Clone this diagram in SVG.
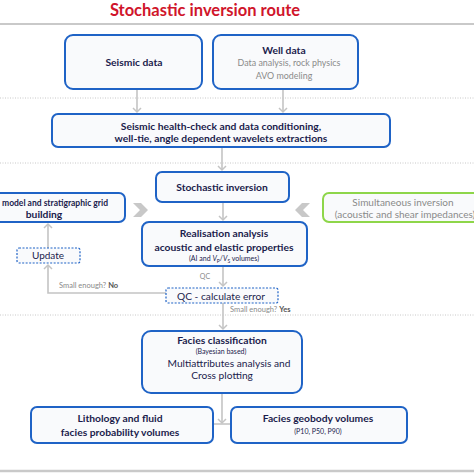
<svg xmlns="http://www.w3.org/2000/svg" width="474" height="474" viewBox="0 0 474 474">
<defs>
<style>
.box{fill:#f9fafc;stroke:#1f63c6;stroke-width:2}
.dash{fill:#f9fafc;stroke:#1f63c6;stroke-width:1.2;stroke-dasharray:2 1.5}
.green{fill:#f9fafc;stroke:#8ed64a;stroke-width:2}
.t{font-family:Lato,"Liberation Sans",sans-serif;fill:#1b1c4c;text-anchor:middle}
.b{font-weight:bold;font-size:10.3px}
.r{font-size:10.2px}
.s{font-size:7px}
.g{fill:#8a8a8a}
.sep{stroke:#c8c8c8;stroke-width:1;stroke-dasharray:1 1.5}
.con{stroke:#c4c4c4;stroke-width:1.6;fill:none}
.chev{fill:#c8c8c8}
</style>
<marker id="ah" markerWidth="10" markerHeight="10" refX="5" refY="5" orient="auto" markerUnits="userSpaceOnUse">
<path d="M1,1 L5,5 L1,9" fill="none" stroke="#c4c4c4" stroke-width="1.5"/>
</marker>
</defs>
<rect width="474" height="474" fill="#ffffff"/>
<text x="205" y="16" style="font-family:Lato,'Liberation Sans',sans-serif;font-weight:bold;font-size:16.5px;fill:#d0152b;text-anchor:middle">Stochastic inversion  route</text>
<line x1="0" y1="24" x2="474" y2="24" stroke="#c9c9c9" stroke-width="2"/>
<line x1="0" y1="471" x2="474" y2="471" stroke="#c9c9c9" stroke-width="2.5"/>
<g id="separators">
<line class="sep" x1="0" y1="98" x2="474" y2="98"/>
<line class="sep" x1="0" y1="163" x2="474" y2="163"/>
<line class="sep" x1="0" y1="315" x2="474" y2="315"/>
</g>
<g id="connectors">
<line class="con" x1="137" y1="89" x2="137" y2="112" marker-end="url(#ah)"/>
<line class="con" x1="283" y1="89" x2="283" y2="112" marker-end="url(#ah)"/>
<line class="con" x1="222" y1="147" x2="222" y2="170" marker-end="url(#ah)"/>
<line class="con" x1="223" y1="202" x2="223" y2="220" marker-end="url(#ah)"/>
<line class="con" x1="223" y1="266" x2="223" y2="286" marker-end="url(#ah)"/>
<polyline class="con" points="166,293 48,293 48,265" marker-end="url(#ah)"/>
<line class="con" x1="48" y1="248" x2="48" y2="224" marker-end="url(#ah)"/>
<line class="con" x1="223" y1="303" x2="223" y2="329" marker-end="url(#ah)"/>
<line class="con" x1="222" y1="393" x2="222" y2="423" marker-end="url(#ah)"/>
<line class="con" x1="213" y1="424" x2="231" y2="424"/>
<path class="chev" d="M133,203 L141,203 L148,210 L141,217 L133,217 L140,210 Z"/>
<path class="chev" d="M310,203 L302,203 L295,210 L302,217 L310,217 L303,210 Z"/>
</g>
<g id="seismic">
<rect class="box" x="65" y="35" width="137" height="54" rx="8"/>
<text class="t b" x="134" y="66">Seismic data</text>
</g>
<g id="well">
<rect class="box" x="213" y="35" width="145" height="54" rx="8"/>
<text class="t b" x="284" y="54">Well data</text>
<text class="t g" x="289" y="66" style="font-size:8.9px">Data analysis, rock physics</text>
<text class="t g" x="284" y="79" style="font-size:8.9px">AVO modeling</text>
</g>
<g id="conditioning">
<rect class="box" x="52" y="114" width="338" height="33" rx="6"/>
<text class="t b" x="221" y="130">Seismic health-check and data conditioning,</text>
<text class="t b" x="221" y="142">well-tie, angle dependent wavelets extractions</text>
</g>
<g id="stochastic">
<rect class="box" x="156" y="172" width="133" height="30" rx="6"/>
<text class="t b" x="222" y="191">Stochastic inversion</text>
</g>
<g id="model">
<rect class="box" x="-40" y="193" width="165" height="29" rx="6"/>
<text class="t b" x="2" y="206" textLength="106" lengthAdjust="spacingAndGlyphs" style="text-anchor:start">model and stratigraphic grid</text>
<text class="t b" x="44" y="218">building</text>
</g>
<g id="simultaneous">
<rect class="green" x="323" y="193" width="170" height="29" rx="6"/>
<text class="t g" x="403" y="206" style="font-size:10px">Simultaneous inversion</text>
<text class="t g" x="405" y="218" style="font-size:10px">(acoustic and shear impedances)</text>
</g>
<g id="realisation">
<rect class="box" x="142" y="222" width="165" height="44" rx="7"/>
<text class="t b" x="224" y="237">Realisation analysis</text>
<text class="t b" x="224" y="251">acoustic and elastic properties</text>
<text class="t s" x="224" y="261">(AI and <tspan font-style="italic">V</tspan><tspan font-size="5" dy="1.5">P</tspan><tspan dy="-1.5">/</tspan><tspan font-style="italic">V</tspan><tspan font-size="5" dy="1.5">S</tspan><tspan dy="-1.5"> volumes)</tspan></text>
</g>
<g id="update">
<rect class="dash" x="17" y="248" width="63" height="15" rx="2"/>
<text class="t" x="48" y="259" style="font-size:10px">Update</text>
</g>
<g id="qc">
<rect class="dash" x="166" y="288" width="112" height="15" rx="2"/>
<text class="t" x="221" y="299.5" style="font-size:10.2px">QC - calculate error</text>
</g>
<g id="labels">
<text class="t s g" x="205" y="279">QC</text>
<text class="t g" x="59" y="288" style="text-anchor:start;font-size:7.5px">Small enough? <tspan font-weight="bold" fill="#555">No</tspan></text>
<text class="t g" x="230" y="312" style="text-anchor:start;font-size:7.5px">Small enough? <tspan font-weight="bold" fill="#555">Yes</tspan></text>
</g>
<g id="facies">
<rect class="box" x="142" y="331" width="160" height="62" rx="9"/>
<text class="t b" x="222" y="344">Facies classification</text>
<text class="t s" x="221" y="354">(Bayesian based)</text>
<text class="t r" x="229" y="367">Multiattributes  analysis and</text>
<text class="t r" x="222" y="379">Cross plotting</text>
</g>
<g id="lithology">
<rect class="box" x="31" y="407" width="182" height="36" rx="6"/>
<text class="t b" x="120" y="422">Lithology and fluid</text>
<text class="t b" x="120" y="436">facies probability volumes</text>
</g>
<g id="geobody">
<rect class="box" x="231" y="407" width="176" height="36" rx="6"/>
<text class="t b" x="318" y="422">Facies geobody volumes</text>
<text class="t s" x="318" y="434">(P10, P50, P90)</text>
</g>
</svg>
